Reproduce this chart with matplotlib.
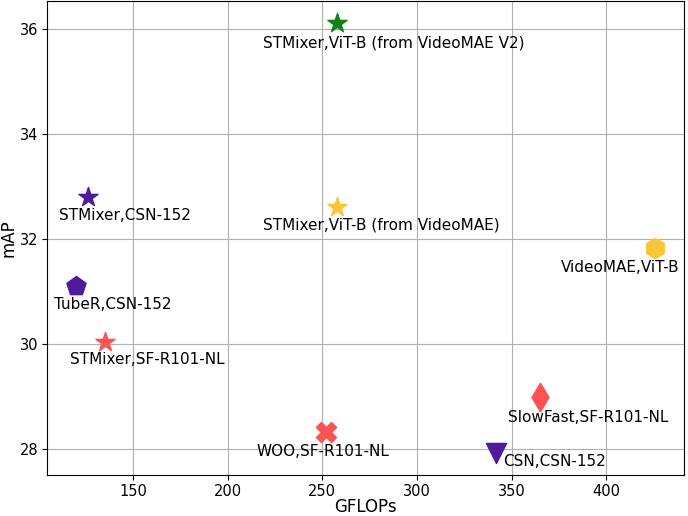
import matplotlib
matplotlib.use("Agg")
import matplotlib.pyplot as plt

# data
names = [
    "STMixer,ViT-B (from VideoMAE V2)",
    "STMixer,CSN-152",
    "STMixer,ViT-B (from VideoMAE)",
    "VideoMAE,ViT-B",
    "TubeR,CSN-152",
    "STMixer,SF-R101-NL",
    "SlowFast,SF-R101-NL",
    "WOO,SF-R101-NL",
    "CSN,CSN-152",
]
gflops = [258, 126, 258, 426, 120, 135, 365, 252, 342]
mAP = [36.13, 32.81, 32.62, 31.83, 31.11, 30.05, 29.0, 28.32, 27.92]

# styling per point
markers = ["*", "*", "*", "h", "p", "*", "d", "X", "v"]
colors = ["#13821a", "#4f1a9c", "#fbc537", "#fbc537", "#4f1a9c",
          "#ff5252", "#ff5252", "#ff5252", "#4f1a9c"]
# label offsets in pixels (left edge, downward to text center)
label_dx = [-74.6, -29, -74.6, -94, -22, -34.7, -31.7, -69.3, 6.7]
label_dy = [20, 18.6, 18, 19.4, 18.3, 18.3, 20.7, 19, 8]

fig = plt.figure(figsize=(6.88, 5.16), dpi=100)
ax = fig.add_axes([47.3 / 688, 41 / 516, 637 / 688, 474 / 516])

for x, y, m, c in zip(gflops, mAP, markers, colors):
    ax.scatter(x, y, marker=m, color=c, s=210, zorder=3)

for x, y, name, dx, dy in zip(gflops, mAP, names, label_dx, label_dy):
    ax.annotate(name, (x, y), xytext=(dx * 0.72, -dy * 0.72),
                textcoords="offset points", ha="left", va="center",
                fontsize=11)

ax.grid(True)
ax.set_axisbelow(True)
ax.tick_params(labelsize=10.5, pad=3)
ax.set_xlabel("GFLOPs", fontsize=12, labelpad=-1)
ax.set_ylabel("mAP", fontsize=12, labelpad=1.5)

fig.savefig("out.png", dpi=100)
